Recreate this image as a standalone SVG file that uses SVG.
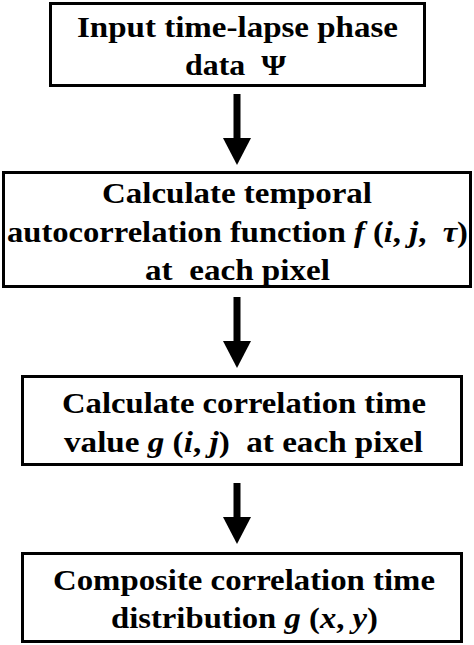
<svg xmlns="http://www.w3.org/2000/svg" width="474" height="645" viewBox="0 0 474 645">
<defs>
<marker id="ah" markerUnits="userSpaceOnUse" viewBox="0 0 27 28" refX="0" refY="14" markerWidth="27" markerHeight="28" orient="auto">
<path d="M0,0 L27,14 L0,28 z" fill="#000"/>
</marker>
</defs>
<rect width="474" height="645" fill="#fff"/>
<g id="connectors" stroke="#000" stroke-width="7" fill="none">
<line x1="237" y1="94" x2="237" y2="138" marker-end="url(#ah)"/>
<line x1="237" y1="297" x2="237" y2="341" marker-end="url(#ah)"/>
<line x1="237" y1="483" x2="237" y2="517" marker-end="url(#ah)"/>
</g>
<g id="nodes" text-anchor="middle" fill="#000">
<g id="node1">
<rect x="50.5" y="3.5" width="374" height="82" fill="#fff" stroke="#000" stroke-width="3"/>
<text x="237.5" y="37" font-family="Times New Roman" font-weight="bold" font-size="29" textLength="321" lengthAdjust="spacingAndGlyphs">Input time-lapse phase</text>
<text x="235.5" y="75" font-family="Times New Roman" font-weight="bold" font-size="29" textLength="101" lengthAdjust="spacingAndGlyphs" xml:space="preserve">data  &#936;</text>
</g>
<g id="node2">
<rect x="3.5" y="172.5" width="467" height="114" fill="#fff" stroke="#000" stroke-width="3"/>
<text x="237" y="203" font-family="Times New Roman" font-weight="bold" font-size="29" textLength="270" lengthAdjust="spacingAndGlyphs">Calculate temporal</text>
<text x="237.5" y="242" font-family="Times New Roman" font-weight="bold" font-size="29" textLength="461" lengthAdjust="spacingAndGlyphs" xml:space="preserve">autocorrelation function <tspan font-style="italic">f</tspan> (<tspan font-style="italic">i</tspan>, <tspan font-style="italic">j</tspan>,  <tspan font-style="italic">&#964;</tspan>)</text>
<text x="237.5" y="280" font-family="Times New Roman" font-weight="bold" font-size="29" textLength="185" lengthAdjust="spacingAndGlyphs" xml:space="preserve">at  each pixel</text>
</g>
<g id="node3">
<rect x="22.5" y="376.5" width="439" height="88" fill="#fff" stroke="#000" stroke-width="3"/>
<text x="244" y="413" font-family="Times New Roman" font-weight="bold" font-size="29" textLength="364" lengthAdjust="spacingAndGlyphs">Calculate correlation time</text>
<text x="243.5" y="452" font-family="Times New Roman" font-weight="bold" font-size="29" textLength="359" lengthAdjust="spacingAndGlyphs" xml:space="preserve">value <tspan font-style="italic">g</tspan> (<tspan font-style="italic">i</tspan>, <tspan font-style="italic">j</tspan>)  at each pixel</text>
</g>
<g id="node4">
<rect x="22.5" y="553.5" width="439" height="88" fill="#fff" stroke="#000" stroke-width="3"/>
<text x="244" y="590" font-family="Times New Roman" font-weight="bold" font-size="29" textLength="382" lengthAdjust="spacingAndGlyphs">Composite correlation time</text>
<text x="244.5" y="628" font-family="Times New Roman" font-weight="bold" font-size="29" textLength="267" lengthAdjust="spacingAndGlyphs">distribution <tspan font-style="italic">g</tspan> (<tspan font-style="italic">x</tspan>, <tspan font-style="italic">y</tspan>)</text>
</g>
</g>
</svg>
